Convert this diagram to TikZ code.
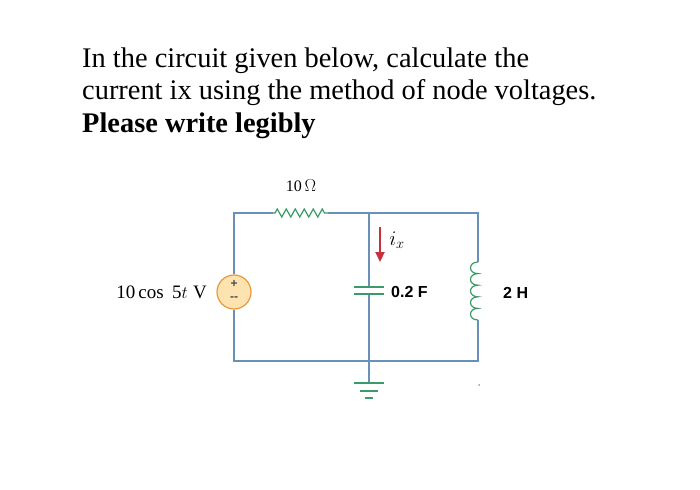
\documentclass[tikz,border=0pt]{standalone}
\usepackage{fontspec}
\setmainfont{Liberation Serif}
\newfontfamily\sansf{Liberation Sans}
\usetikzlibrary{arrows.meta,decorations.pathmorphing}
\definecolor{wire}{HTML}{6A90B8}
\definecolor{res}{HTML}{3A9A6A}
\definecolor{srcfill}{HTML}{FCE3B0}
\definecolor{srcdraw}{HTML}{E8983A}
\definecolor{arr}{HTML}{C8303A}
\begin{document}
\begin{tikzpicture}[x=1pt,y=-1pt,
  w/.style={draw=wire,line width=1.3pt},
  title/.style={anchor=west,font=\fontsize{28.4}{32}\selectfont,inner sep=0},
  lab/.style={inner sep=0}]
\useasboundingbox (0,0) rectangle (700,489);
\node[title] (t1) at (82,61) {In the circuit given below, calculate the};
\node[title] (t2) at (82,93) {current ix using the method of node voltages.};
\node[title] (t3) at (82,126) {\bfseries Please write legibly};
% corners
\coordinate (tl) at (234,213); \coordinate (bl) at (234,361);
\coordinate (tm) at (369,213); \coordinate (bm) at (369,361);
\coordinate (tr) at (478,213); \coordinate (br) at (478,361);
\coordinate (r1) at (273,213); \coordinate (r2) at (328,213);
\coordinate (c1) at (369,287); \coordinate (c2) at (369,294);
\coordinate (l1) at (478,262); \coordinate (l2) at (478,320);
\coordinate (g) at (369,383);
\node[circle,draw=srcdraw,fill=srcfill,line width=1.2pt,minimum size=34pt,inner sep=0] (src) at (234,292) {};
\node[font=\sansf\bfseries\fontsize{12}{12}\selectfont,text=black!70,inner sep=0] (pl) at (234,284) {+};
\node[font=\sansf\bfseries\fontsize{12}{12}\selectfont,text=black!70,inner sep=0] (mi) at (234,299) {--};
% wires
\draw[w] (src.north) -- (tl) -- (r1);
\draw[w] (r2) -- (tr) -- (l1);
\draw[w] (l2) -- (br) -- (bl) -- (src.south);
\draw[w] (tm) -- (c1); \draw[w] (c2) -- (g);
\draw[draw=res,line width=1.2pt,decorate,decoration={zigzag,segment length=9pt,amplitude=4pt,pre length=2pt,post length=2pt}] (r1) -- (r2);
\draw[draw=res,line width=1.2pt] (354,287) -- (384,287) (354,294) -- (384,294);
\draw[draw=res,line width=1.2pt] (l1)
  \foreach \k in {0,...,4}{ .. controls (468,262+\k*11.6) and (468,262+\k*11.6+11.6) .. (478,262+\k*11.6+11.6) };
% ground
\draw[draw=res,line width=1.2pt] (354,383) -- (384,383) (360,391) -- (378,391) (365,398) -- (373,398);
\fill[black!40] (479,385) circle (1pt);
% arrow
\draw[arr,line width=2.2pt,-{Triangle[length=10pt,width=9pt]}] (380,227) -- (380,262);
% labels
\node[lab,font=\fontsize{16}{16}\selectfont] (rl) at (301,186) {10\,$\Omega$};
\node[lab,font=\fontsize{20}{20}\selectfont] (ix) at (397,240) {$i_x$};
\node[lab,font=\fontsize{19}{20}\selectfont,anchor=east] (vl) at (207,292) {10\,cos\;\,5$t$\;V};
\node[lab,font=\sansf\bfseries\fontsize{16}{16}\selectfont,anchor=west] (cl) at (391,292) {0.2 F};
\node[lab,font=\sansf\bfseries\fontsize{16}{16}\selectfont,anchor=west] (ll) at (503,293) {2 H};
\end{tikzpicture}
\end{document}
